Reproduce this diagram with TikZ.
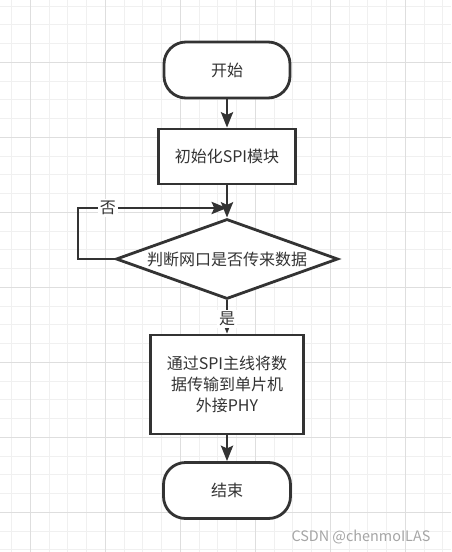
\documentclass[tikz,border=0pt]{standalone}
\usepackage{fontspec}
\setmainfont{Noto Sans CJK SC}
\usetikzlibrary{shapes.geometric,arrows.meta}
\definecolor{ink}{RGB}{51,51,51}
\definecolor{gridminor}{RGB}{240,240,240}
\definecolor{gridmajor}{RGB}{222,222,222}
\definecolor{wm}{RGB}{165,165,165}
\tikzset{
  base/.style={draw=ink, line width=2.1pt, fill=white, text=ink, inner sep=0pt,
    font=\fontsize{12pt}{15.75pt}\selectfont, align=center},
  term/.style={base, rounded corners=16.5pt},
  procbox/.style={base, rectangle},
  decision/.style={base, diamond, aspect=2.775},
  conn/.style={draw=ink, line width=2.1pt, -{Stealth[length=11.5pt,width=9pt,inset=2pt]}},
  lbl/.style={fill=white, text=ink, inner sep=1.5pt, font=\fontsize{12pt}{14pt}\selectfont},
  minorline/.style={draw=gridminor, line width=0.75pt},
  majorline/.style={draw=gridmajor, line width=0.75pt},
}
\begin{document}
\begin{tikzpicture}[x=0.75pt,y=-0.75pt]
\useasboundingbox (0,0) rectangle (451,552);
\fill[white] (0,0) rectangle (451,552);
\foreach \i in {-1,...,22} {
  \pgfmathsetmacro\xx{30.3+18.75*\i}
  \draw[minorline] (\xx,0) -- (\xx,552);
}
\foreach \i in {-3,...,26} {
  \pgfmathsetmacro\yy{62.3+18.75*\i}
  \draw[minorline] (0,\yy) -- (451,\yy);
}
\foreach \i in {0,...,5} {
  \pgfmathsetmacro\xx{30.3+75*\i}
  \draw[majorline] (\xx,0) -- (\xx,552);
}
\foreach \i in {0,...,6} {
  \pgfmathsetmacro\yy{62.3+75*\i}
  \draw[majorline] (0,\yy) -- (451,\yy);
}

\node[term, minimum width=94.5pt, minimum height=42pt] (start) at (227,70) {开始};
\node[procbox, minimum width=102.75pt, minimum height=41.25pt] (init) at (227,156.5) {初始化SPI模块};
\node[decision, minimum width=166.5pt, minimum height=60pt] (dec) at (227,259) {判断网口是否传来数据};
\node[procbox, minimum width=114.75pt, minimum height=74.25pt] (proc) at (227,384.5) {通过SPI主线将数\\据传输到单片机\\外接PHY};
\node[term, minimum width=95.25pt, minimum height=42pt] (stop) at (227,490.5) {结束};

\coordinate (join) at (227,208);
\coordinate (loopl) at (78,259);

\draw[conn] (start) -- (init);
\draw[conn] (init) -- (dec);
\draw[conn] (dec.west) -- (loopl) |- (join) node[lbl, pos=0.6] {否};
\draw[conn] (dec) -- (proc) node[lbl, pos=0.55] {是};
\draw[conn] (proc) -- (stop);

\node[text=wm, font=\fontsize{10.8pt}{12pt}\selectfont, inner sep=0pt] (wmark) at (361,537) {CSDN @chenmoILAS};
\end{tikzpicture}
\end{document}
